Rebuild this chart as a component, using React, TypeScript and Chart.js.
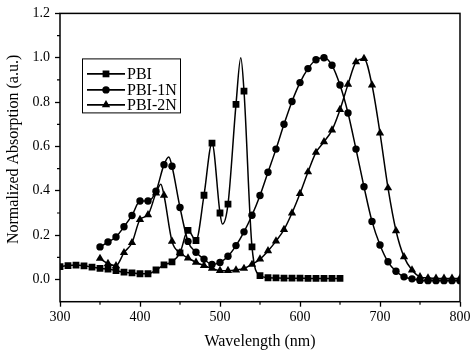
import React, { useEffect, useRef } from 'react';
import { Chart, registerables } from 'chart.js';

Chart.register(...registerables);

// ---- Data ----
const pbiWavelengths = [300, 310, 320, 330, 340, 350, 360, 370, 380, 390, 400, 410, 420, 430, 440, 450, 460, 470, 480, 490, 500, 510, 520, 530, 540, 550, 560, 570, 580, 590, 600, 610, 620, 630, 640, 650];
const pbiValues = [0.058, 0.063, 0.065, 0.062, 0.056, 0.05, 0.047, 0.04, 0.033, 0.03, 0.026, 0.026, 0.043, 0.066, 0.08, 0.12, 0.222, 0.176, 0.38, 0.615, 0.30, 0.34, 0.79, 0.85, 0.147, 0.018, 0.008, 0.007, 0.006, 0.006, 0.006, 0.005, 0.005, 0.005, 0.005, 0.005];
// unmarked points on the drawn curve (peaks / troughs between markers)
const pbiCurveWavelengths = [503, 526];
const pbiCurveValues = [0.25, 1.0];

const pbi1nWavelengths = [350, 360, 370, 380, 390, 400, 410, 420, 430, 440, 450, 460, 470, 480, 490, 500, 510, 520, 530, 540, 550, 560, 570, 580, 590, 600, 610, 620, 630, 640, 650, 660, 670, 680, 690, 700, 710, 720, 730, 740, 750, 760, 770, 780, 790, 800];
const pbi1nValues = [0.147, 0.169, 0.192, 0.238, 0.289, 0.354, 0.354, 0.398, 0.518, 0.511, 0.325, 0.172, 0.123, 0.092, 0.068, 0.077, 0.105, 0.153, 0.215, 0.29, 0.379, 0.484, 0.588, 0.70, 0.803, 0.888, 0.951, 0.991, 1.0, 0.966, 0.877, 0.751, 0.588, 0.418, 0.262, 0.156, 0.08, 0.037, 0.012, 0.003, -0.004, -0.005, -0.005, -0.005, -0.005, -0.005];
const pbi1nCurveWavelengths = [436];
const pbi1nCurveValues = [0.553];

const pbi2nWavelengths = [350, 360, 370, 380, 390, 400, 410, 420, 430, 440, 450, 460, 470, 480, 490, 500, 510, 520, 530, 540, 550, 560, 570, 580, 590, 600, 610, 620, 630, 640, 650, 660, 670, 680, 690, 700, 710, 720, 730, 740, 750, 760, 770, 780, 790, 800];
const pbi2nValues = [0.095, 0.072, 0.062, 0.121, 0.166, 0.27, 0.292, 0.39, 0.38, 0.172, 0.121, 0.097, 0.078, 0.063, 0.05, 0.04, 0.04, 0.043, 0.05, 0.068, 0.092, 0.129, 0.173, 0.225, 0.30, 0.388, 0.485, 0.573, 0.621, 0.674, 0.766, 0.88, 0.981, 0.996, 0.877, 0.66, 0.413, 0.22, 0.102, 0.043, 0.012, 0.007, 0.005, 0.005, 0.005, 0.005];
const pbi2nCurveWavelengths = [426];
const pbi2nCurveValues = [0.43];

const seriesLabels = ['PBI', 'PBI-1N', 'PBI-2N'];
const seriesMarkers = ['rect', 'circle', 'triangle'];

const xMin = 300;
const xMax = 800;
const xStep = 100;
const xMinorTicks = [350, 450, 550, 650, 750];
const yMin = -0.1;
const yMax = 1.2;
const yStep = 0.2;
const yMinorTicks = [0.1, 0.3, 0.5, 0.7, 0.9, 1.1];

const xTitle = 'Wavelength (nm)';
const yTitle = 'Normalized Absorption (a.u.)';

const FONT = "'Liberation Serif', 'Times New Roman', serif";

type Pt = { x: number; y: number; m: boolean };

function buildSeries(wl: number[], vals: number[], cwl: number[], cvals: number[]): Pt[] {
  const pts: Pt[] = wl.map((x, i) => ({ x, y: vals[i], m: true }));
  cwl.forEach((x, i) => pts.push({ x, y: cvals[i], m: false }));
  pts.sort((a, b) => a.x - b.x);
  return pts;
}

const markerRadius: Record<string, number> = { rect: 4.8, circle: 3.7, triangle: 4.8 };

function drawMarker(ctx: CanvasRenderingContext2D, style: string, x: number, y: number) {
  const r = markerRadius[style];
  ctx.beginPath();
  if (style === 'rect') {
    const s = Math.SQRT1_2 * r;
    ctx.rect(x - s, y - s, 2 * s, 2 * s);
  } else if (style === 'circle') {
    ctx.arc(x, y, r, 0, Math.PI * 2);
  } else {
    const h = Math.sin(Math.PI / 3) * r;
    ctx.moveTo(x, y - r);
    ctx.lineTo(x + h, y + r / 2);
    ctx.lineTo(x - h, y + r / 2);
    ctx.closePath();
  }
  ctx.fill();
}

const framePlugin = {
  id: 'frameAndMinor',
  afterDraw(chart: any) {
    const { ctx, chartArea } = chart;
    const xs = chart.scales.x;
    const ys = chart.scales.y;
    ctx.save();
    ctx.strokeStyle = '#000';
    ctx.lineWidth = 1.5;
    ctx.strokeRect(chartArea.left, chartArea.top, chartArea.right - chartArea.left, chartArea.bottom - chartArea.top);
    ctx.lineWidth = 1.2;
    ctx.beginPath();
    xMinorTicks.forEach((v) => {
      const px = xs.getPixelForValue(v);
      ctx.moveTo(px, chartArea.bottom);
      ctx.lineTo(px, chartArea.bottom + 3);
    });
    yMinorTicks.forEach((v) => {
      const py = ys.getPixelForValue(v);
      ctx.moveTo(chartArea.left, py);
      ctx.lineTo(chartArea.left - 3, py);
    });
    ctx.stroke();

    // y-axis title
    ctx.save();
    ctx.translate(14, chartArea.top + 136);
    ctx.rotate(-Math.PI / 2);
    ctx.fillStyle = '#000';
    ctx.font = `16px ${FONT}`;
    ctx.textAlign = 'center';
    ctx.textBaseline = 'middle';
    ctx.fillText(yTitle, 0, 0);
    ctx.restore();

    // legend
    const bx = chartArea.left + 22;
    const by = chartArea.top + 45;
    const bw = 98;
    const bh = 54;
    ctx.fillStyle = '#fff';
    ctx.fillRect(bx, by, bw, bh);
    ctx.lineWidth = 1;
    ctx.strokeRect(bx + 0.5, by + 0.5, bw, bh);
    const rows = [15.5, 31.5, 46.5];
    seriesLabels.forEach((label, i) => {
      const y = by + rows[i];
      ctx.strokeStyle = '#000';
      ctx.lineWidth = 1.8;
      ctx.beginPath();
      ctx.moveTo(bx + 5, y);
      ctx.lineTo(bx + 43, y);
      ctx.stroke();
      ctx.fillStyle = '#000';
      drawMarker(ctx, seriesMarkers[i], bx + 24, y);
      ctx.font = `16px ${FONT}`;
      ctx.textBaseline = 'middle';
      ctx.textAlign = 'left';
      ctx.fillText(label, bx + 45, y + 0.5);
    });
    ctx.restore();
  },
};

export default function App() {
  const canvasRef = useRef<HTMLCanvasElement | null>(null);

  useEffect(() => {
    const canvas = canvasRef.current;
    if (!canvas) return;
    const series = [
      buildSeries(pbiWavelengths, pbiValues, pbiCurveWavelengths, pbiCurveValues),
      buildSeries(pbi1nWavelengths, pbi1nValues, pbi1nCurveWavelengths, pbi1nCurveValues),
      buildSeries(pbi2nWavelengths, pbi2nValues, pbi2nCurveWavelengths, pbi2nCurveValues),
    ];
    const datasets = series.map((data, i) => ({
      label: seriesLabels[i],
      data,
      borderColor: '#000',
      backgroundColor: '#000',
      borderWidth: 1.5,
      pointStyle: seriesMarkers[i],
      pointRadius: (c: any) => (c.raw && c.raw.m ? markerRadius[seriesMarkers[i]] : 0),
      pointHoverRadius: 0,
      pointBackgroundColor: '#000',
      pointBorderColor: '#000',
      pointBorderWidth: 0,
      cubicInterpolationMode: 'monotone' as const,
      fill: false,
    }));

    const chart = new Chart(canvas, {
      type: 'line',
      data: { datasets },
      plugins: [framePlugin],
      options: {
        animation: false,
        responsive: false,
        events: [],
        layout: { padding: { top: 9, right: 14, left: 0, bottom: 0 } },
        plugins: {
          legend: { display: false },
          tooltip: { enabled: false },
        },
        scales: {
          x: {
            type: 'linear',
            min: xMin,
            max: xMax,
            ticks: {
              stepSize: xStep,
              color: '#000',
              font: { family: FONT, size: 14 },
              padding: 2,
              maxRotation: 0,
              callback: (v: any) => String(v),
            },
            grid: {
              drawOnChartArea: false,
              color: '#000',
              tickColor: '#000',
              tickLength: 5,
              tickWidth: 1.3,
            },
            border: { display: false },
            title: {
              display: true,
              text: xTitle,
              color: '#000',
              font: { family: FONT, size: 16 },
              padding: { top: 0, bottom: 4 },
            },
            afterFit: (s: any) => {
              s.height = 53.3;
            },
          },
          y: {
            type: 'linear',
            min: yMin,
            max: yMax,
            ticks: {
              stepSize: yStep,
              color: '#000',
              font: { family: FONT, size: 14 },
              padding: 5,
              callback: (v: any) => (v < -0.05 ? '' : Number(v).toFixed(1)),
            },
            grid: {
              drawOnChartArea: false,
              color: (c: any) => (c.tick && c.tick.value < -0.05 ? 'rgba(0,0,0,0)' : '#000'),
              tickColor: (c: any) => (c.tick && c.tick.value < -0.05 ? 'rgba(0,0,0,0)' : '#000'),
              tickLength: 5,
              tickWidth: 1.3,
            },
            border: { display: false },
            title: { display: false, text: yTitle },
            afterFit: (s: any) => {
              s.width = 60;
            },
          },
        },
      },
    });
    return () => chart.destroy();
  }, []);

  return (
    <div style={{ position: 'fixed', left: 0, top: 0, width: 474, height: 355, background: '#fff' }}>
      <canvas ref={canvasRef} width={474} height={355} style={{ display: 'block', width: 474, height: 355 }} />
    </div>
  );
}
